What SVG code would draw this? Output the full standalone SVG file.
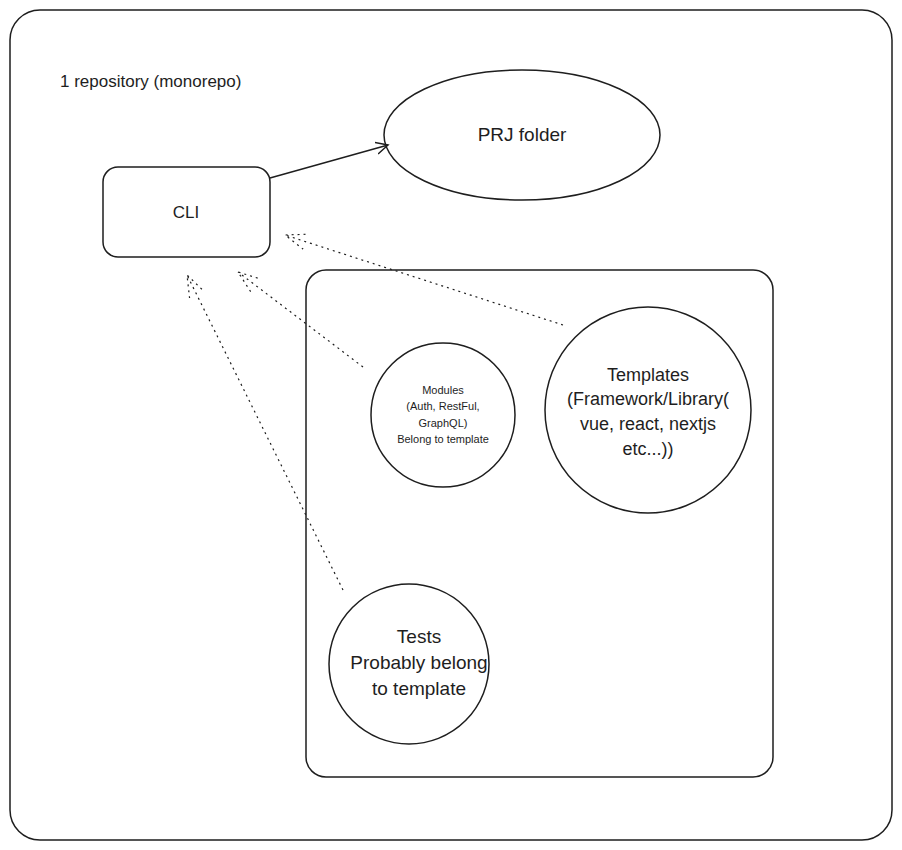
<svg xmlns="http://www.w3.org/2000/svg" width="902" height="850" viewBox="0 0 902 850">
<style>
.s{fill:none;stroke:#1e1e1e;stroke-width:1.5}
.d{fill:none;stroke:#1e1e1e;stroke-width:1.2;stroke-dasharray:2 4}
text{font-family:"Liberation Sans",sans-serif;fill:#1e1e1e;text-anchor:middle}
</style>
<defs>
<marker id="a" markerWidth="14" markerHeight="14" refX="12" refY="7" orient="auto" markerUnits="userSpaceOnUse"><path d="M0,1 L12,7 L0,13" fill="none" stroke="#1e1e1e" stroke-width="1.5"/></marker>
<marker id="ad" markerWidth="24" markerHeight="20" refX="22" refY="10" orient="auto" markerUnits="userSpaceOnUse"><path d="M0,2 L22,10 L0,18" fill="none" stroke="#1e1e1e" stroke-width="1.2" stroke-dasharray="2 4"/></marker>
</defs>
<rect width="902" height="850" fill="#fff"/>
<g id="repo"><rect class="s" x="10" y="10" width="882" height="830" rx="30"/>
<text x="60" y="87" font-size="17" style="text-anchor:start">1 repository (monorepo)</text></g>
<g id="prj"><ellipse class="s" cx="522" cy="135" rx="138" ry="65"/><text x="522" y="141" font-size="19">PRJ folder</text></g>
<g id="cli"><rect class="s" x="103" y="167" width="167" height="90" rx="15"/><text x="186" y="218" font-size="17">CLI</text></g>
<g id="group"><rect class="s" x="306" y="270" width="467" height="507" rx="20"/></g>
<g id="modules"><circle class="s" cx="443" cy="415" r="72"/>
<text font-size="11"><tspan x="443" y="394">Modules</tspan><tspan x="443" y="410">(Auth, RestFul,</tspan><tspan x="443" y="427">GraphQL)</tspan><tspan x="443" y="443">Belong to template</tspan></text></g>
<g id="templates"><circle class="s" cx="648" cy="410" r="103"/>
<text font-size="18"><tspan x="648" y="381">Templates</tspan><tspan x="648" y="405">(Framework/Library(</tspan><tspan x="648" y="430">vue, react, nextjs</tspan><tspan x="648" y="455">etc...))</tspan></text></g>
<g id="tests"><circle class="s" cx="409" cy="664" r="80"/>
<text font-size="19"><tspan x="419" y="643">Tests</tspan><tspan x="419" y="669">Probably belong</tspan><tspan x="419" y="695">to template</tspan></text></g>
<g id="connectors">
<path class="s" d="M270,178 L388,145" marker-end="url(#a)"/>
<path class="d" d="M563,325 L285,235" marker-end="url(#ad)"/>
<path class="d" d="M363,367 L238,272" marker-end="url(#ad)"/>
<path class="d" d="M343,590 L187,275" marker-end="url(#ad)"/>
</g>
</svg>
